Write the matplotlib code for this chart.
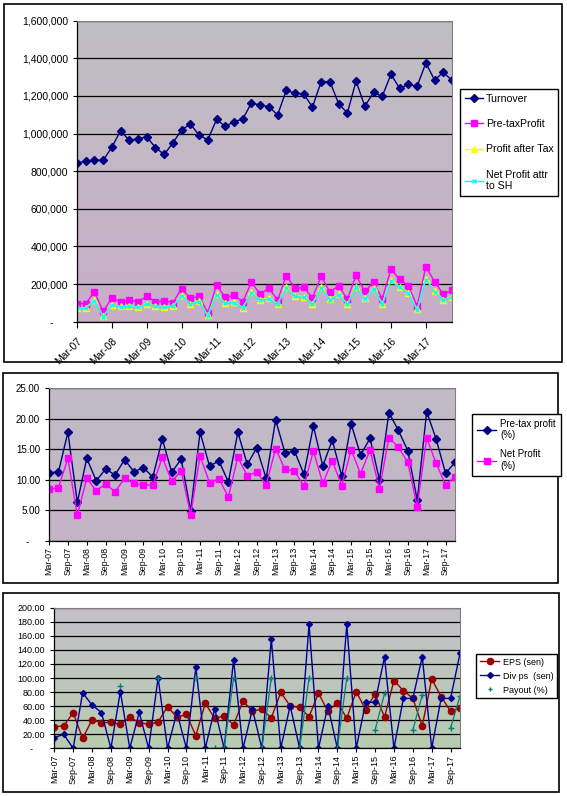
import numpy as np
import matplotlib.pyplot as plt
from matplotlib.patches import Rectangle
from matplotlib.lines import Line2D
from matplotlib.colors import LinearSegmentedColormap
from matplotlib.ticker import FuncFormatter

plt.rcParams['font.family'] = ['Liberation Sans', 'DejaVu Sans']

# ----------------------------------------------------------------------------
# data (quarterly, Mar-07 .. Dec-17)
# ----------------------------------------------------------------------------
months = ['Mar', 'Jun', 'Sep', 'Dec']
quarters = [m + '-%02d' % y for y in range(7, 18) for m in months]

# RM '000
turnover = [845, 852, 859, 857, 928, 1015, 964, 973, 983, 925, 889, 951,
            1020, 1051, 992, 966, 1075, 1038, 1063, 1077, 1162, 1152, 1143, 1099,
            1230, 1214, 1210, 1141, 1276, 1276, 1159, 1109, 1279, 1145, 1219, 1198,
            1315, 1240, 1262, 1251, 1375, 1285, 1325, 1283]
pretax_profit = [96, 96, 158, 55, 127, 104, 115, 105, 135, 105, 111, 102,
                 176, 124, 135, 47, 195, 129, 142, 105, 211, 145, 179, 115,
                 245, 177, 182, 128, 241, 158, 191, 120, 246, 161, 209, 122,
                 278, 225, 190, 83, 292, 213, 147, 167]
profit_after_tax = [73, 73, 115, 29, 91, 82, 84, 78, 96, 84, 78, 84,
                    142, 96, 109, 33, 147, 100, 105, 75, 156, 118, 124, 96,
                    182, 138, 133, 96, 182, 120, 147, 95, 187, 124, 178, 96,
                    222, 187, 155, 65, 229, 164, 118, 133]
net_profit_sh = [71, 71, 112, 27, 89, 80, 82, 76, 94, 82, 76, 82,
                 139, 94, 106, 31, 144, 97, 102, 73, 152, 115, 120, 93,
                 178, 134, 129, 93, 178, 117, 143, 92, 183, 120, 174, 93,
                 217, 183, 151, 62, 224, 160, 115, 130]

# margins (%)
pretax_pct = [11.16, 11.27, 17.78, 6.29, 13.51, 9.85, 11.76, 10.78, 13.29, 11.32, 11.98, 10.45,
              16.69, 11.21, 13.40, 4.87, 17.78, 12.25, 13.07, 9.63, 17.78, 12.53, 15.21, 10.23,
              19.80, 14.39, 14.72, 10.89, 18.82, 12.25, 16.52, 10.61, 19.15, 14.06, 16.79, 9.96,
              21.01, 18.11, 14.77, 6.62, 21.17, 16.69, 11.05, 12.86]
net_pct = [8.42, 8.70, 13.51, 4.16, 10.23, 8.21, 9.30, 8.04, 10.23, 9.41, 9.14, 9.14,
           13.68, 9.74, 11.43, 4.27, 13.89, 9.52, 10.12, 7.22, 13.68, 10.67, 11.24, 9.14,
           15.10, 11.71, 11.43, 8.92, 14.72, 9.41, 13.13, 9.03, 14.88, 11.00, 14.88, 8.48,
           16.90, 15.37, 12.86, 5.52, 16.85, 12.69, 9.19, 10.50]

# per share (sen) and payout
eps = [30.8, 31.8, 50.7, 14.2, 40.3, 36.5, 37.0, 34.1, 44.1, 36.5, 34.1, 37.4,
       59.2, 44.1, 48.3, 18.0, 64.0, 42.7, 46.0, 33.2, 67.3, 53.0, 55.5, 43.2,
       79.6, 60.2, 58.3, 45.0, 78.5, 52.5, 64.9, 43.0, 80.6, 55.0, 77.3, 44.5,
       96.2, 82.0, 71.0, 31.8, 98.6, 73.5, 52.6, 57.8]
div_ps = [15.2, 19.9, 0, 79.0, 61.6, 50.7, 0, 80.6, 0, 51.0, 0, 100.5,
          0, 51.0, 0, 115.0, 0, 56.0, 0, 125.6, 0, 55.5, 0, 155.0,
          0, 60.7, 0, 176.3, 0, 60.2, 0, 176.3, 0, 65.4, 65.4, 130.0,
          0, 71.0, 71.0, 130.0, 0, 71.0, 71.0, 135.0]
payout = [None, None, None, None, None, None, None, 89, None, None, None, 100,
          None, None, None, 100, None, 0, 0, 100, None, None, 0, 100,
          None, None, 0, 100, None, None, 0, 100, None, None, 26, 78,
          None, None, 26, 76, None, None, 29, 74]

# ----------------------------------------------------------------------------
W, H = 567, 796
fig = plt.figure(figsize=(W / 100, H / 100), dpi=100)


def px_rect(x0, y0, x1, y1):
    return [x0 / W, 1 - y1 / H, (x1 - x0) / W, (y1 - y0) / H]


# chart area frames
for (x0, y0, x1, y1) in [(4, 4, 562, 362), (3, 373, 558, 583), (3, 593, 559, 792)]:
    r = px_rect(x0, y0, x1, y1)
    fig.add_artist(Rectangle((r[0], r[1]), r[2], r[3], transform=fig.transFigure,
                             fill=False, edgecolor='black', linewidth=1.2))

x = np.arange(len(quarters))
txt = '#000000'


def setup(ax, c_top, c_bot, ymax, ystep, fmt, zero_lbl):
    cmap = LinearSegmentedColormap.from_list('bg', [c_top, c_bot])
    ax.imshow(np.linspace(0, 1, 256).reshape(-1, 1), extent=[0, 1, 0, 1],
              transform=ax.transAxes, cmap=cmap, aspect='auto', zorder=0)
    ax.set_xlim(0, len(quarters) - 1)
    ax.set_ylim(0, ymax)
    ax.set_yticks(np.arange(0, ymax + ystep / 2, ystep))
    ax.yaxis.set_major_formatter(FuncFormatter(lambda v, p: zero_lbl if v == 0 else fmt.format(v)))
    ax.yaxis.grid(True, color='black', linewidth=0.9)
    ax.set_axisbelow(True)
    for s in ['top', 'right']:
        ax.spines[s].set_color('#808080')
        ax.spines[s].set_linewidth(0.8)
    for s in ['left', 'bottom']:
        ax.spines[s].set_color('black')
        ax.spines[s].set_linewidth(0.9)
    ax.tick_params(axis='both', direction='out', length=3, width=0.8, colors='black',
                   labelcolor=txt)


# --------------------------- top: turnover & profit --------------------------
ax1 = fig.add_axes(px_rect(77, 20.7, 452, 321.7))
setup(ax1, '#BFBFC3', '#C8AEC8', 1600000, 200000, '{:,.0f}', '-     ')
ax1.tick_params(axis='y', labelsize=7.5)
h1 = ax1.plot(x, np.array(turnover) * 1000, color='#000080', lw=1, marker='D', ms=4)[0]
h2 = ax1.plot(x, np.array(pretax_profit) * 1000, color='#FF00FF', lw=1, marker='s', ms=4.5)[0]
h3 = ax1.plot(x, np.array(profit_after_tax) * 1000, color='#FFFF00', lw=1, marker='^', ms=4.5)[0]
h4 = ax1.plot(x, np.array(net_profit_sh) * 1000, color='#00FFFF', lw=1, marker='x', ms=3)[0]
ax1.set_xticks(x[::4])
ax1.set_xticklabels(quarters[::4], rotation=45, ha='right', va='top',
                    rotation_mode='anchor', fontsize=7.5)
ax1.tick_params(axis='x', length=4, pad=6)

leg1 = fig.legend([h1, h2, h3, h4],
                  ['Turnover', 'Pre-taxProfit', 'Profit after Tax', 'Net Profit attr\nto SH'],
                  loc='upper left', bbox_to_anchor=(460 / W, 1 - 89 / H), fontsize=7.6,
                  frameon=True, fancybox=False, edgecolor='black', framealpha=1,
                  labelspacing=1.45, handlelength=1.7, handletextpad=0.3, borderpad=0.45,
                  borderaxespad=0)
leg1.get_frame().set_linewidth(1)

# --------------------------- middle: margins ---------------------------------
ax2 = fig.add_axes(px_rect(49, 388.3, 455, 540.7))
setup(ax2, '#C0BCC6', '#C4B4C6', 25, 5, '{:.2f}', '-    ')
ax2.tick_params(axis='y', labelsize=7)
m1 = ax2.plot(x, pretax_pct, color='#000080', lw=1, marker='D', ms=4)[0]
m2 = ax2.plot(x, net_pct, color='#FF00FF', lw=1, marker='s', ms=4.5)[0]
ax2.set_xticks(x[::2])
ax2.set_xticklabels(quarters[::2], rotation=90, fontsize=6.3)
ax2.tick_params(axis='x', length=3, pad=1.5)

leg2 = fig.legend([m1, m2], ['Pre-tax profit\n(%)', 'Net Profit\n(%)'],
                  loc='upper left', bbox_to_anchor=(472 / W, 1 - 414 / H), fontsize=7,
                  frameon=True, fancybox=False, edgecolor='black', framealpha=1,
                  labelspacing=0.9, handlelength=2.0, handletextpad=0.4, borderpad=0.5,
                  borderaxespad=0)
leg2.get_frame().set_linewidth(1)

# --------------------------- bottom: per share -------------------------------
ax3 = fig.add_axes(px_rect(54.3, 607.7, 460, 748.3))
setup(ax3, '#C4C0C8', '#B8CCB0', 200, 20, '{:.2f}', '-     ')
ax3.tick_params(axis='y', labelsize=6.5)
b1 = ax3.plot(x, eps, color='#990000', lw=1, marker='o', ms=4.5)[0]
b2 = ax3.plot(x, div_ps, color='#000099', lw=1, marker='D', ms=3)[0]
ax3.plot(x, np.array(payout, dtype=float), color='#008080', lw=0.9, marker='+', ms=4)
b3 = Line2D([], [], color='#008080', ls='none', marker='+', ms=3)
ax3.set_xticks(x[::2])
ax3.set_xticklabels(quarters[::2], rotation=90, fontsize=6.5)
ax3.tick_params(axis='x', length=3, pad=1.5)

leg3 = fig.legend([b1, b2, b3], ['EPS (sen)', 'Div ps  (sen)', 'Payout (%)'],
                  loc='upper left', bbox_to_anchor=(476 / W, 1 - 654 / H), fontsize=6.5,
                  frameon=True, fancybox=False, edgecolor='black', framealpha=1,
                  labelspacing=0.55, handlelength=2.2, handletextpad=0.4, borderpad=0.4,
                  borderaxespad=0)
leg3.get_frame().set_linewidth(1)

fig.savefig('out.png', dpi=100)
